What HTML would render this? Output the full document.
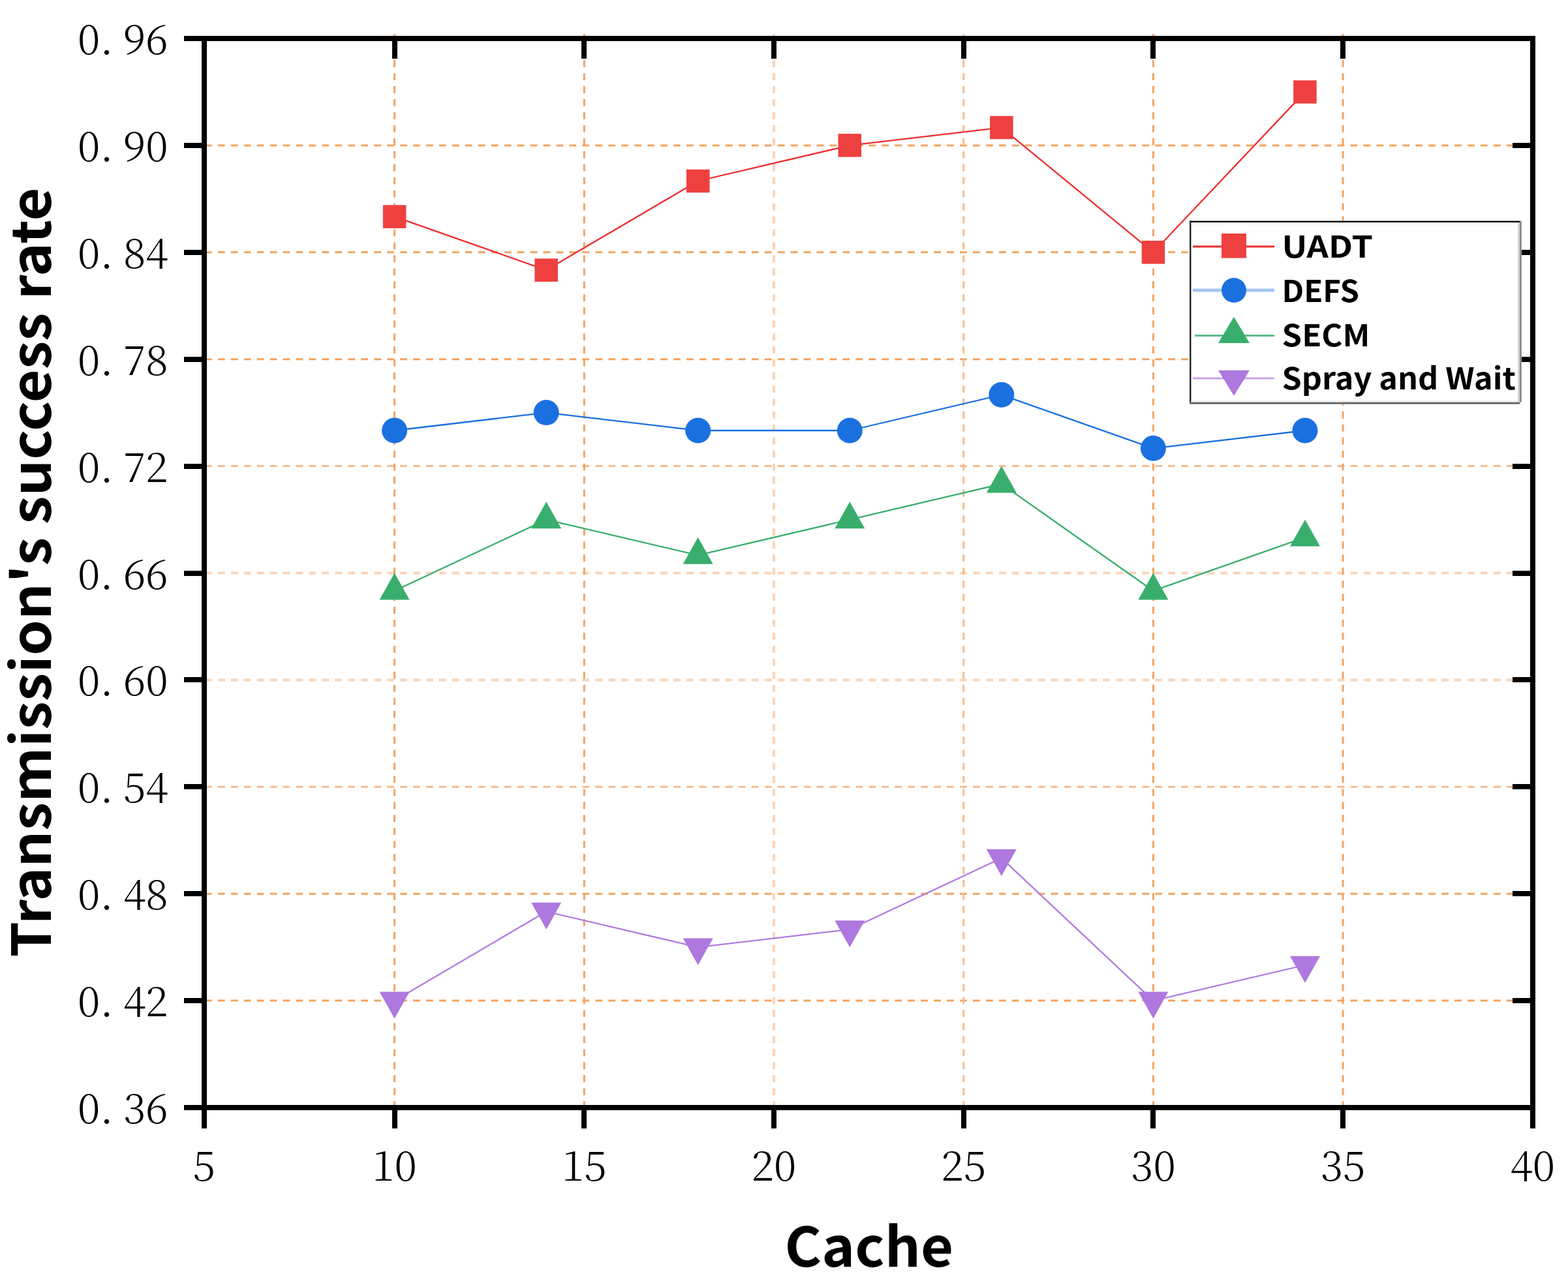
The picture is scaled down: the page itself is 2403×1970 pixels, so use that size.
<!DOCTYPE html><html><head><meta charset="utf-8"><title>Transmission success rate vs Cache</title>
<style>html,body{margin:0;padding:0;background:#fff;overflow:hidden}svg{display:block}</style></head><body>
<svg width="2403" height="1970" viewBox="0 0 2403 1970">
<rect x="0" y="0" width="2403" height="1970" fill="#fff"/>
<g stroke-dasharray="10.8 9.15" fill="none"><line x1="313.9" y1="222.9" x2="2345" y2="222.9" stroke="#f1a463" stroke-width="3"/><line x1="313.9" y1="386.8" x2="2345" y2="386.8" stroke="#f1a463" stroke-width="3"/><line x1="313.9" y1="550.7" x2="2345" y2="550.7" stroke="#f1a463" stroke-width="3"/><line x1="313.9" y1="714.6" x2="2345" y2="714.6" stroke="#f5bc8e" stroke-width="3"/><line x1="313.9" y1="878.5" x2="2345" y2="878.5" stroke="#f9d5b8" stroke-width="4"/><line x1="313.9" y1="1042.4" x2="2345" y2="1042.4" stroke="#f9d5b8" stroke-width="4"/><line x1="313.9" y1="1206.3" x2="2345" y2="1206.3" stroke="#f5bc8e" stroke-width="3"/><line x1="313.9" y1="1370.2" x2="2345" y2="1370.2" stroke="#f1a463" stroke-width="3"/><line x1="313.9" y1="1534.1" x2="2345" y2="1534.1" stroke="#f1a463" stroke-width="3"/><line x1="604.6" y1="52.3" x2="604.6" y2="1698" stroke="#f1a463" stroke-width="3"/><line x1="895.3" y1="52.3" x2="895.3" y2="1698" stroke="#f1a463" stroke-width="3"/><line x1="1186.0" y1="52.3" x2="1186.0" y2="1698" stroke="#f9d5b8" stroke-width="4"/><line x1="1476.7" y1="52.3" x2="1476.7" y2="1698" stroke="#f5bc8e" stroke-width="3"/><line x1="1767.4" y1="52.3" x2="1767.4" y2="1698" stroke="#f1a463" stroke-width="3"/><line x1="2058.1" y1="52.3" x2="2058.1" y2="1698" stroke="#f1a463" stroke-width="3"/></g>
<polyline points="604.6,332.2 837.2,414.1 1069.7,277.5 1302.3,222.9 1534.8,195.6 1767.4,386.8 2000.0,140.9" fill="none" stroke="#ee2d2d" stroke-width="2.3" stroke-linejoin="round"/>
<polyline points="604.6,660.0 837.2,632.6 1069.7,660.0 1302.3,660.0 1534.8,605.3 1767.4,687.3 2000.0,660.0" fill="none" stroke="#1b6fe0" stroke-width="2.3" stroke-linejoin="round"/>
<polyline points="604.6,905.8 837.2,796.6 1069.7,851.2 1302.3,796.6 1534.8,741.9 1767.4,905.8 2000.0,823.9" fill="none" stroke="#39ae6c" stroke-width="2.3" stroke-linejoin="round"/>
<polyline points="604.6,1534.1 837.2,1397.5 1069.7,1452.1 1302.3,1424.8 1534.8,1315.6 1767.4,1534.1 2000.0,1479.5" fill="none" stroke="#b07be0" stroke-width="2.3" stroke-linejoin="round"/>
<rect x="586.9" y="314.4" width="35.5" height="35.5" fill="#ef4040"/><rect x="819.4" y="396.4" width="35.5" height="35.5" fill="#ef4040"/><rect x="1052.0" y="259.8" width="35.5" height="35.5" fill="#ef4040"/><rect x="1284.5" y="205.1" width="35.5" height="35.5" fill="#ef4040"/><rect x="1517.1" y="177.8" width="35.5" height="35.5" fill="#ef4040"/><rect x="1749.7" y="369.0" width="35.5" height="35.5" fill="#ef4040"/><rect x="1982.2" y="123.2" width="35.5" height="35.5" fill="#ef4040"/><circle cx="604.6" cy="660.0" r="19.5" fill="#1b70e0"/><circle cx="837.2" cy="632.6" r="19.5" fill="#1b70e0"/><circle cx="1069.7" cy="660.0" r="19.5" fill="#1b70e0"/><circle cx="1302.3" cy="660.0" r="19.5" fill="#1b70e0"/><circle cx="1534.8" cy="605.3" r="19.5" fill="#1b70e0"/><circle cx="1767.4" cy="687.3" r="19.5" fill="#1b70e0"/><circle cx="2000.0" cy="660.0" r="19.5" fill="#1b70e0"/><polygon points="604.6,878.5 627.6,919.5 581.6,919.5" fill="#39ae6c"/><polygon points="837.2,769.2 860.2,810.2 814.2,810.2" fill="#39ae6c"/><polygon points="1069.7,823.8 1092.7,864.8 1046.7,864.8" fill="#39ae6c"/><polygon points="1302.3,769.2 1325.3,810.2 1279.3,810.2" fill="#39ae6c"/><polygon points="1534.8,714.6 1557.8,755.6 1511.8,755.6" fill="#39ae6c"/><polygon points="1767.4,878.5 1790.4,919.5 1744.4,919.5" fill="#39ae6c"/><polygon points="2000.0,796.5 2023.0,837.5 1977.0,837.5" fill="#39ae6c"/><polygon points="604.6,1561.4 627.6,1520.4 581.6,1520.4" fill="#ae78de"/><polygon points="837.2,1424.8 860.2,1383.8 814.2,1383.8" fill="#ae78de"/><polygon points="1069.7,1479.5 1092.7,1438.5 1046.7,1438.5" fill="#ae78de"/><polygon points="1302.3,1452.2 1325.3,1411.2 1279.3,1411.2" fill="#ae78de"/><polygon points="1534.8,1342.9 1557.8,1301.9 1511.8,1301.9" fill="#ae78de"/><polygon points="1767.4,1561.4 1790.4,1520.4 1744.4,1520.4" fill="#ae78de"/><polygon points="2000.0,1506.8 2023.0,1465.8 1977.0,1465.8" fill="#ae78de"/>
<g fill="#000" shape-rendering="crispEdges">
<rect x="282" y="55" width="2071" height="8"/>
<rect x="282" y="1694" width="2071" height="8"/>
<rect x="309" y="55" width="8" height="1675"/>
<rect x="2345" y="55" width="8" height="1675"/>
<rect x="282" y="1694.0" width="31" height="8"/>
<rect x="2318" y="1694.0" width="31" height="8"/>
<rect x="282" y="1530.1" width="31" height="8"/>
<rect x="2318" y="1530.1" width="31" height="8"/>
<rect x="282" y="1366.2" width="31" height="8"/>
<rect x="2318" y="1366.2" width="31" height="8"/>
<rect x="282" y="1202.3" width="31" height="8"/>
<rect x="2318" y="1202.3" width="31" height="8"/>
<rect x="282" y="1038.4" width="31" height="8"/>
<rect x="2318" y="1038.4" width="31" height="8"/>
<rect x="282" y="874.5" width="31" height="8"/>
<rect x="2318" y="874.5" width="31" height="8"/>
<rect x="282" y="710.6" width="31" height="8"/>
<rect x="2318" y="710.6" width="31" height="8"/>
<rect x="282" y="546.7" width="31" height="8"/>
<rect x="2318" y="546.7" width="31" height="8"/>
<rect x="282" y="382.8" width="31" height="8"/>
<rect x="2318" y="382.8" width="31" height="8"/>
<rect x="282" y="218.9" width="31" height="8"/>
<rect x="2318" y="218.9" width="31" height="8"/>
<rect x="282" y="55.0" width="31" height="8"/>
<rect x="2318" y="55.0" width="31" height="8"/>
<rect x="600.6" y="59" width="8" height="31"/>
<rect x="600.6" y="1698" width="8" height="32"/>
<rect x="891.3" y="59" width="8" height="31"/>
<rect x="891.3" y="1698" width="8" height="32"/>
<rect x="1182.0" y="59" width="8" height="31"/>
<rect x="1182.0" y="1698" width="8" height="32"/>
<rect x="1472.7" y="59" width="8" height="31"/>
<rect x="1472.7" y="1698" width="8" height="32"/>
<rect x="1763.4" y="59" width="8" height="31"/>
<rect x="1763.4" y="1698" width="8" height="32"/>
<rect x="2054.1" y="59" width="8" height="31"/>
<rect x="2054.1" y="1698" width="8" height="32"/>
</g>
<g font-family="'Noto Serif CJK SC', 'Liberation Serif', serif" font-weight="300" font-size="63.4" fill="#000"><text x="119.0" y="1722.0">0.</text><text x="257.5" y="1722.0" text-anchor="end">36</text><text x="119.0" y="1558.1">0.</text><text x="257.5" y="1558.1" text-anchor="end">42</text><text x="119.0" y="1394.2">0.</text><text x="257.5" y="1394.2" text-anchor="end">48</text><text x="119.0" y="1230.3">0.</text><text x="257.5" y="1230.3" text-anchor="end">54</text><text x="119.0" y="1066.4">0.</text><text x="257.5" y="1066.4" text-anchor="end">60</text><text x="119.0" y="902.5">0.</text><text x="257.5" y="902.5" text-anchor="end">66</text><text x="119.0" y="738.6">0.</text><text x="257.5" y="738.6" text-anchor="end">72</text><text x="119.0" y="574.7">0.</text><text x="257.5" y="574.7" text-anchor="end">78</text><text x="119.0" y="410.8">0.</text><text x="257.5" y="410.8" text-anchor="end">84</text><text x="119.0" y="246.9">0.</text><text x="257.5" y="246.9" text-anchor="end">90</text><text x="119.0" y="83.0">0.</text><text x="257.5" y="83.0" text-anchor="end">96</text><text x="312.7" y="1810" text-anchor="middle">5</text><text x="604.6" y="1810" text-anchor="middle">10</text><text x="895.3" y="1810" text-anchor="middle">15</text><text x="1186.0" y="1810" text-anchor="middle">20</text><text x="1476.7" y="1810" text-anchor="middle">25</text><text x="1767.4" y="1810" text-anchor="middle">30</text><text x="2058.1" y="1810" text-anchor="middle">35</text><text x="2348.8" y="1810" text-anchor="middle">40</text></g>
<text x="1331.8" y="1942.4" text-anchor="middle" font-family="'Noto Sans CJK SC', 'Liberation Sans', sans-serif" font-weight="bold" font-size="84" textLength="258.5" lengthAdjust="spacingAndGlyphs">Cache</text>
<text transform="translate(78 877.6) rotate(-90)" x="0" y="0" text-anchor="middle" font-family="'Noto Sans CJK SC', 'Liberation Sans', sans-serif" font-weight="bold" font-size="83" textLength="1180.2" lengthAdjust="spacingAndGlyphs">Transmission's success rate</text>
<rect x="1823" y="338.6" width="509" height="281" fill="#fff"/><rect x="1823" y="338.6" width="506" height="2.4" fill="#000"/><rect x="1823" y="338.6" width="2.5" height="278.1" fill="#2a2a2a"/><rect x="2326" y="341" width="3" height="275.7" fill="#d4d4d4"/><rect x="2329" y="338.6" width="2.8" height="278.1" fill="#888"/><rect x="1825.5" y="614.2" width="500.5" height="2.5" fill="#eee"/><rect x="1823" y="616.7" width="506" height="2.8" fill="#606060"/><line x1="1828" y1="378" x2="1953" y2="378" stroke="#ee2d2d" stroke-width="2.8"/><rect x="1872" y="358" width="38" height="37.6" fill="#ef4040"/><line x1="1828" y1="445" x2="1953" y2="445" stroke="#a6c6f1" stroke-width="5"/><circle cx="1891" cy="445" r="19" fill="#1b70e0"/><line x1="1831" y1="514.5" x2="1953" y2="514.5" stroke="#5bbd87" stroke-width="3"/><polygon points="1891,485.7 1915,526 1867,526" fill="#39ae6c"/><line x1="1828" y1="580" x2="1953" y2="580" stroke="#c9a2ea" stroke-width="3"/><polygon points="1867,567.8 1915,567.8 1891,606.8" fill="#ae78de"/>
<g font-family="'Noto Sans CJK SC', 'Liberation Sans', sans-serif" font-weight="bold" font-size="46" fill="#000">
<text x="1964.5" y="394.6"  textLength="139.4" lengthAdjust="spacingAndGlyphs">UADT</text>
<text x="1964.5" y="462.6"  textLength="118.6" lengthAdjust="spacingAndGlyphs">DEFS</text>
<text x="1964.5" y="530.5"  textLength="134.9" lengthAdjust="spacingAndGlyphs">SECM</text>
<text x="1964.5" y="596.8"  textLength="358.4" lengthAdjust="spacingAndGlyphs">Spray and Wait</text>
</g>
</svg></body></html>
